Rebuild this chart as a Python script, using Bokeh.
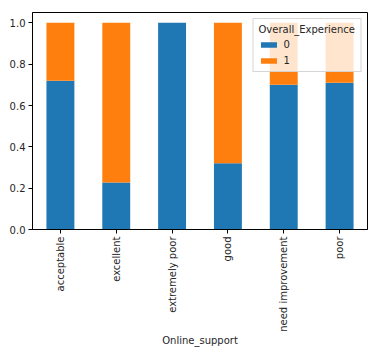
import math
from bokeh.plotting import figure
from bokeh.models import Range1d, FixedTicker, Legend, LegendItem, CustomJSTickFormatter
from bokeh.embed import file_html
from bokeh.resources import INLINE

categories = ["acceptable", "excellent", "extremely poor", "good", "need improvement", "poor"]
share_0 = [0.72, 0.227, 1.0, 0.32, 0.70, 0.71]
share_1 = [1 - v for v in share_0]
series_names = ["0", "1"]
colors = ["#1f77b4", "#ff7f0e"]
y_ticks = [0.0, 0.2, 0.4, 0.6, 0.8, 1.0]

FONT = "DejaVu Sans"

p = figure(x_range=categories, y_range=Range1d(0, 1.05),
           frame_width=335, frame_height=217, output_backend="svg", toolbar_location=None,
           min_border_left=32, min_border_right=8, min_border_top=12, min_border_bottom=10)

data = {"cat": categories, "0": share_0, "1": share_1}
renderers = p.vbar_stack(series_names, x="cat", width=0.5, color=colors, source=data, line_width=0)

p.x_range.range_padding = 0
p.xgrid.visible = False
p.ygrid.visible = False
p.outline_line_color = "black"
p.outline_line_width = 1

for ax in (p.xaxis[0], p.yaxis[0]):
    ax.axis_line_color = "black"
    ax.major_tick_line_color = "black"
    ax.major_tick_out = 4
    ax.major_tick_in = 0
    ax.minor_tick_line_color = None
    ax.major_label_text_font = FONT
    ax.major_label_text_font_size = "10px"
    ax.major_label_text_color = "#262626"
    ax.major_label_standoff = 3

p.yaxis.ticker = FixedTicker(ticks=y_ticks)
p.yaxis.formatter = CustomJSTickFormatter(code="return tick.toFixed(1);")
p.xaxis.major_label_orientation = math.pi / 2
p.xaxis.axis_label = "Online_support"
p.xaxis.axis_label_text_font = FONT
p.xaxis.axis_label_text_font_size = "10px"
p.xaxis.axis_label_text_font_style = "normal"
p.xaxis.axis_label_text_color = "#262626"
p.xaxis.axis_label_standoff = 0

legend = Legend(items=[LegendItem(label=n, renderers=[r]) for n, r in zip(series_names, renderers)],
                location="top_right", title="Overall_Experience")
legend.title_text_font = FONT
legend.title_text_font_size = "10px"
legend.title_text_font_style = "normal"
legend.title_text_color = "#262626"
legend.title_standoff = 4
legend.label_text_font = FONT
legend.label_text_font_size = "10px"
legend.label_text_color = "#262626"
legend.glyph_width = 20
legend.glyph_height = 7
legend.label_height = 10
legend.spacing = 5
legend.padding = 5
legend.margin = 6
legend.background_fill_alpha = 0.8
legend.border_line_color = "#cccccc"
legend.border_line_alpha = 0.8
p.add_layout(legend)

open("out.html", "w").write(file_html(p, INLINE))
